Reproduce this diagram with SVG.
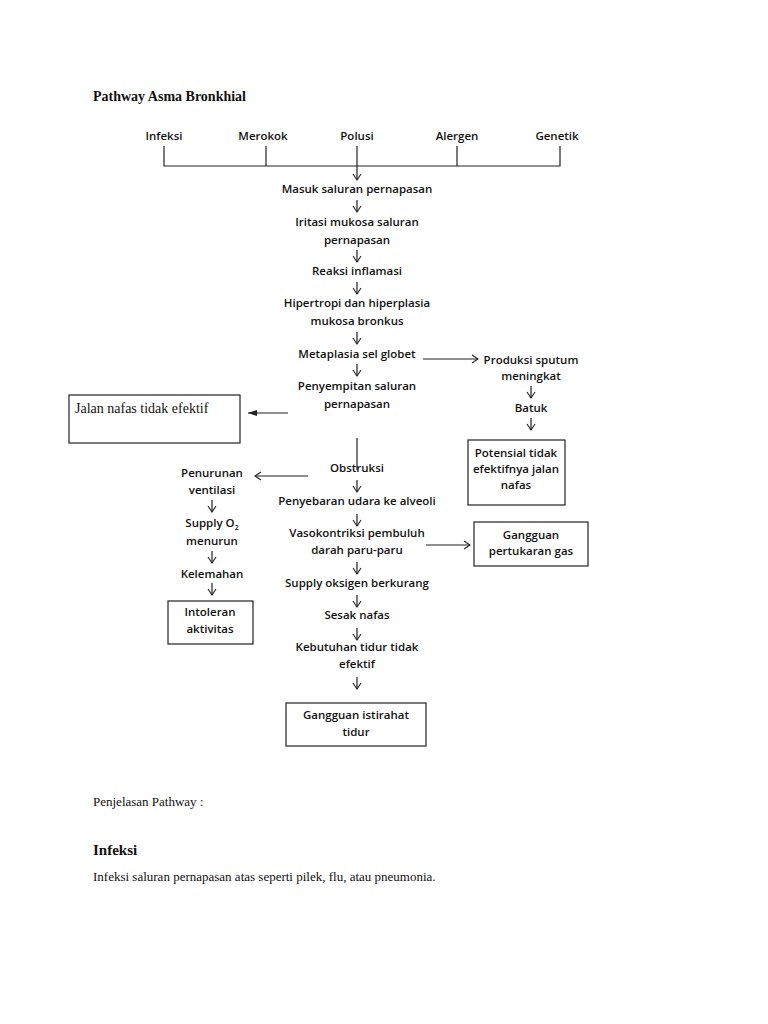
<svg xmlns="http://www.w3.org/2000/svg" width="768" height="1024" viewBox="0 0 768 1024">
<style>
text{font-family:"Open Sans","Liberation Sans",sans-serif;font-size:11.5px;font-weight:600;fill:#111;text-anchor:middle}
.s{font-family:"Liberation Serif",serif;font-weight:normal;text-anchor:start;font-size:13px}
.b{font-family:"Liberation Serif",serif;font-weight:bold;text-anchor:start}
.ln{stroke:#222;stroke-width:1.2;fill:none}
.box{fill:#fff;stroke:#222;stroke-width:1.2}
</style>
<defs>
<marker id="o" markerWidth="10" markerHeight="10" refX="8" refY="5" orient="auto" markerUnits="userSpaceOnUse"><path d="M2,1 L8,5 L2,9" fill="none" stroke="#222" stroke-width="1.1"/></marker>
<marker id="f" markerWidth="10" markerHeight="8" refX="9" refY="4" orient="auto" markerUnits="userSpaceOnUse"><path d="M0,1 L9,4 L0,7Z" fill="#222"/></marker>
</defs>
<rect x="0" y="0" width="768" height="1024" fill="#fff"/>
<text class="b" x="93" y="101" style="font-size:14px">Pathway Asma Bronkhial</text>
<g id="causes">
<text x="164" y="140">Infeksi</text><text x="263" y="140">Merokok</text><text x="357" y="140">Polusi</text><text x="457" y="140">Alergen</text><text x="557" y="140">Genetik</text>
</g>
<g id="connectors">
<path class="ln" d="M164,146V166H560V146M266,146V166M457,146V166"/>
<path class="ln" d="M357,146V180" marker-end="url(#o)"/>
<path class="ln" d="M357,200V212" marker-end="url(#o)"/>
<path class="ln" d="M357,250V262" marker-end="url(#o)"/>
<path class="ln" d="M357,282V294" marker-end="url(#o)"/>
<path class="ln" d="M357,332V344" marker-end="url(#o)"/>
<path class="ln" d="M357,364V376" marker-end="url(#o)"/>
<path class="ln" d="M357,480V492" marker-end="url(#o)"/>
<path class="ln" d="M357,514V526" marker-end="url(#o)"/>
<path class="ln" d="M357,562V574" marker-end="url(#o)"/>
<path class="ln" d="M357,595V607" marker-end="url(#o)"/>
<path class="ln" d="M357,628V640" marker-end="url(#o)"/>
<path class="ln" d="M357,677V689" marker-end="url(#o)"/>
<path class="ln" d="M288,413H248" marker-end="url(#f)"/>
<path class="ln" d="M357,438V470"/>
<path class="ln" d="M308,476H255" marker-end="url(#o)"/>
<path class="ln" d="M212,500V512" marker-end="url(#o)"/>
<path class="ln" d="M212,551V563" marker-end="url(#o)"/>
<path class="ln" d="M212,583V595" marker-end="url(#o)"/>
<path class="ln" d="M423,359H478" marker-end="url(#o)"/>
<path class="ln" d="M531,386V398" marker-end="url(#o)"/>
<path class="ln" d="M531,418V430" marker-end="url(#o)"/>
<path class="ln" d="M426,545H470" marker-end="url(#o)"/>
</g>
<g id="main">
<text x="357" y="193">Masuk saluran pernapasan</text>
<text x="357" y="226">Iritasi mukosa saluran</text><text x="357" y="244">pernapasan</text>
<text x="357" y="275">Reaksi inflamasi</text>
<text x="357" y="307">Hipertropi dan hiperplasia</text><text x="357" y="325">mukosa bronkus</text>
<text x="357" y="358">Metaplasia sel globet</text>
<text x="357" y="390">Penyempitan saluran</text><text x="357" y="408">pernapasan</text>
<text x="357" y="472">Obstruksi</text>
<text x="357" y="505">Penyebaran udara ke alveoli</text>
<text x="357" y="537">Vasokontriksi pembuluh</text><text x="357" y="554">darah paru-paru</text>
<text x="357" y="587">Supply oksigen berkurang</text>
<text x="357" y="619">Sesak nafas</text>
<text x="357" y="651">Kebutuhan tidur tidak</text><text x="357" y="668">efektif</text>
</g>
<g id="n-istirahat"><rect class="box" x="286" y="703" width="140" height="43"/><text x="356" y="719">Gangguan istirahat</text><text x="356" y="736">tidur</text></g>
<g id="n-jalan"><rect class="box" x="69" y="395" width="171" height="48"/><text class="s" x="75" y="413" style="font-size:14px">Jalan nafas tidak efektif</text></g>
<g id="left">
<text x="212" y="477">Penurunan</text><text x="212" y="494">ventilasi</text>
<text x="212" y="527">Supply O<tspan font-size="7" dy="3">2</tspan></text><text x="212" y="545">menurun</text>
<text x="212" y="578">Kelemahan</text>
</g>
<g id="n-intoleran"><rect class="box" x="168" y="601" width="85" height="43"/><text x="210" y="616">Intoleran</text><text x="210" y="633">aktivitas</text></g>
<g id="right">
<text x="531" y="364">Produksi sputum</text><text x="531" y="380">meningkat</text>
<text x="531" y="412">Batuk</text>
</g>
<g id="n-potensial"><rect class="box" x="468" y="440" width="97" height="65"/><text x="516" y="457">Potensial tidak</text><text x="516" y="473">efektifnya jalan</text><text x="516" y="489">nafas</text></g>
<g id="n-gas"><rect class="box" x="474" y="522" width="114" height="44"/><text x="531" y="539">Gangguan</text><text x="531" y="555">pertukaran gas</text></g>
<text class="s" x="93" y="806">Penjelasan Pathway :</text>
<text class="b" x="93" y="855" style="font-size:15px">Infeksi</text>
<text class="s" x="93" y="881">Infeksi saluran pernapasan atas seperti pilek, flu, atau pneumonia.</text>
</svg>
